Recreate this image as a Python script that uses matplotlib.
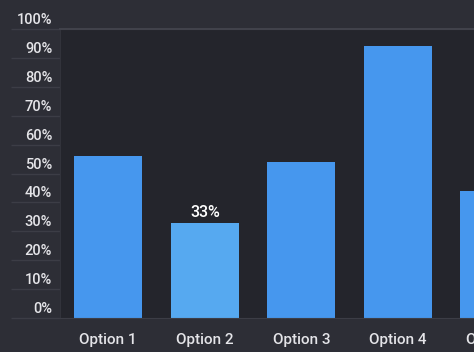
import matplotlib.pyplot as plt

opciones = ['Option 1', 'Option 2', 'Option 3', 'Option 4', 'Option 5']
valores = [56, 33, 54, 94, 44]
ticks_y = [0, 10, 20, 30, 40, 50, 60, 70, 80, 90, 100]

plt.rcParams['font.family'] = ['Roboto', 'DejaVu Sans']

fondo = '#2d2e36'
fondo_ejes = '#24252c'
texto = '#e4e4e8'
linea = '#3c3d46'

fig = plt.figure(figsize=(4.74, 3.52), dpi=100, facecolor=fondo)
ax = fig.add_axes([60/474, 34/352, 414/474, 289/352], facecolor=fondo_ejes)

colores = ['#4697ee'] * len(opciones)
colores[1] = '#56a9f0'
posiciones = list(range(len(opciones)))
ax.bar(posiciones, valores, width=0.7, color=colores, zorder=2)

ax.text(1, valores[1] + 1.0, f'{valores[1]}%', ha='center', va='bottom',
        color='white', fontsize=11.5, fontweight='medium')

ax.set_xticks(posiciones)
ax.set_xticklabels(opciones, color=texto, fontsize=11, fontweight='medium')
ax.tick_params(axis='x', length=0, pad=11)

# la ultima etiqueta queda fuera de la vista, se dibuja a mano (cortada en el borde)
ax.annotate(opciones[-1], xy=(posiciones[-1], 0), xycoords=ax.get_xaxis_transform(),
            xytext=(0, -11 * 100 / 72), textcoords='offset pixels',
            ha='center', va='top', color=texto, fontsize=11, fontweight='medium',
            annotation_clip=False)

ax.set_yticks(ticks_y)
ax.set_yticklabels([])
ax.tick_params(axis='y', length=35, width=1, color=linea, direction='out')
for v in ticks_y:
    ax.text(-0.019, v + 3.1, f'{v}%', transform=ax.get_yaxis_transform(),
            ha='right', va='center', color=texto, fontsize=10.5, fontweight='medium')

# los limites despues de set_xticks
ax.set_xlim(-0.5, 3.79)
ax.set_ylim(0, 100)

ax.spines['right'].set_visible(False)
ax.spines['top'].set_color('#41424b')
ax.spines['top'].set_linewidth(1.5)
ax.spines['left'].set_color('#32333b')
ax.spines['bottom'].set_color(linea)

plt.savefig('out.png', dpi=100, facecolor=fondo)
